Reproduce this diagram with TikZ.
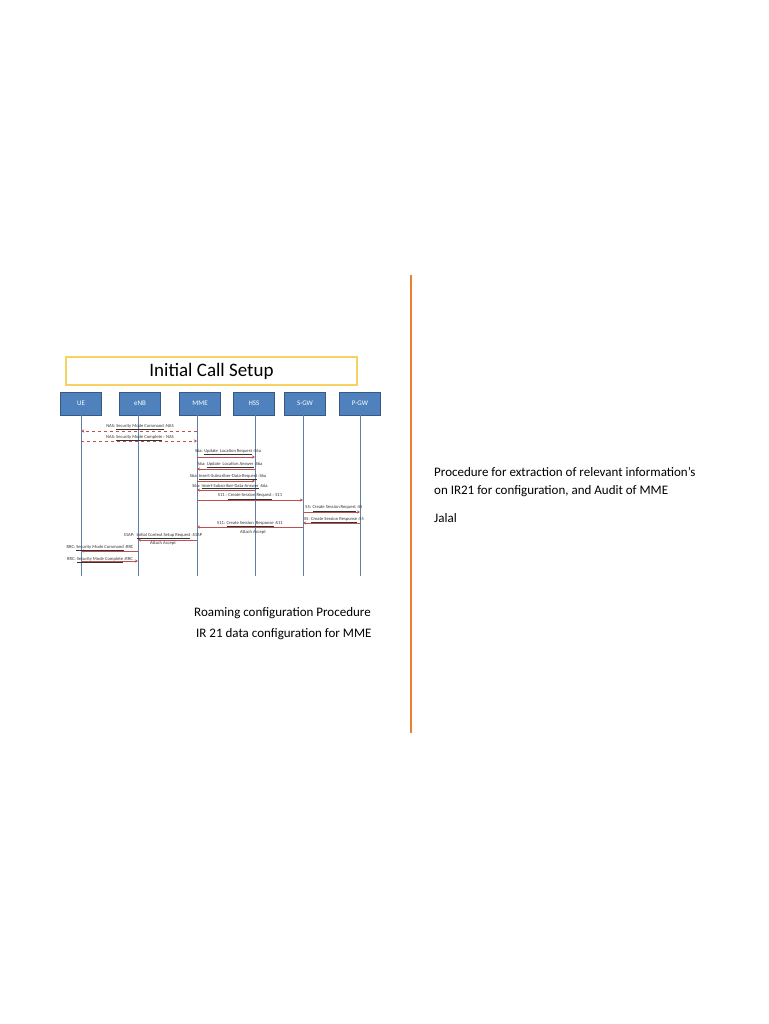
\documentclass[tikz,border=0pt]{standalone}
\usepackage{fontspec}
\setmainfont{Carlito}
\usetikzlibrary{arrows.meta}
\definecolor{ent}{HTML}{4F81BD}
\definecolor{msg}{HTML}{C0504D}
\definecolor{ttl}{HTML}{F5D35E}
\definecolor{org}{HTML}{ED7D31}
\begin{document}
\begin{tikzpicture}[x=1pt,y=-1pt,
  entbox/.style={draw=ent!70!black,fill=ent,text=white,minimum width=41pt,minimum height=23pt,inner sep=0pt,font=\fontsize{7}{8}\selectfont},
  life/.style={draw=ent!60!gray,line width=0.6pt},
  m/.style={draw=msg,line width=0.6pt,-{Stealth[length=3pt,width=3pt]}},
  md/.style={m,dashed},
  lab/.style={font=\fontsize{4.6}{5}\selectfont,inner sep=0pt,text=black!80},
  captext/.style={font=\fontsize{13}{15}\selectfont,anchor=west,inner sep=0pt}]
\useasboundingbox (0,0) rectangle (768,1024);
\node[draw=ttl,line width=1.2pt,minimum width=291pt,minimum height=28pt,inner sep=0pt,font=\fontsize{19}{22}\selectfont] (title) at (211.5,371) {Initial Call Setup};
\foreach \n/\t/\x in {ue/UE/81,enb/eNB/140,mme/MME/200,hss/HSS/254,sgw/S-GW/305,pgw/P-GW/360}{
  \node[entbox] (\n) at (\x,403.5) {\t};
}
\foreach \n/\x in {ue/81,enb/138,mme/197,hss/255,sgw/303,pgw/360}{
  \coordinate (\n t) at (\x,415); \coordinate (\n b) at (\x,576);
  \draw[life] (\n t) -- (\n b);
}
\foreach \n/\x in {ue/81,enb/138,mme/197,hss/255,sgw/303,pgw/360}{
  \foreach \k/\y in {1/431,2/441,3/457,4/469,5/481,6/490,7/500,8/512,9/523,10/527,11/540,12/551,13/561}{
    \coordinate (\n\k) at (\x,\y);
  }
}
\draw[md] (mme1) -- (ue1);
\node[lab] (l1) at (140,427) {NAS: \underline{Security Mode Command} :NAS};
\draw[md] (ue2) -- (mme2);
\node[lab] (l2) at (140,438) {NAS: \underline{Security Mode Complete} : NAS};
\draw[m] (mme3) -- (hss3);
\node[lab] (l3) at (228,452) {S6a: \underline{Update\ \ Location Request} :S6a};
\draw[m] (hss4) -- (mme4);
\node[lab] (l4) at (230,465) {S6a: \underline{Update\ \ Location Answer} :S6a};
\draw[m] (mme5) -- (hss5);
\node[lab] (l5) at (228,477) {S6a: \underline{Insert-Subscriber-Data-Request} :S6a};
\draw[m] (hss6) -- (mme6);
\node[lab] (l6) at (230,486.5) {S6a: \underline{Insert-Subscriber-Data-Answer} :S6a};
\draw[m] (mme7) -- (sgw7);
\node[lab] (l7) at (250,496.5) {S11 : \underline{Create Session Request} : S11};
\draw[m] (sgw8) -- (pgw8);
\node[lab] (l8) at (334,508.5) {S5: \underline{Create Session Request} :S5};
\draw[m] (pgw9) -- (sgw9);
\node[lab] (l9) at (334,520) {S5: \underline{Create Session Response} :S5};
\draw[m] (sgw10) -- (mme10);
\node[lab] (l10) at (250,524) {S11: \underline{Create Session\ \ Response} :S11};
\node[lab] (l10b) at (253,532) {Attach Accept};
\draw[m] (mme11) -- (enb11);
\node[lab] (l11) at (163,536) {S1AP:\ \ \underline{Initial Context Setup Request} :S1AP};
\node[lab] (l11b) at (163,543.5) {Attach Accept};
\draw[m] (enb12) -- (ue12);
\node[lab] (l12) at (100,548) {RRC: \underline{Security Mode Command} :RRC};
\draw[m] (ue13) -- (enb13);
\node[lab] (l13) at (100,560) {RRC: \underline{Security Mode Complete} :RRC};
\node[captext] (c1) at (194,613) {Roaming configuration Procedure};
\node[captext] (c2) at (196,634) {IR 21 data configuration for MME};
\coordinate (ot) at (411,275); \coordinate (ob) at (411,733);
\draw[org,line width=1.5pt] (ot) -- (ob);
\node[captext] (r1) at (434,472) {Procedure for extraction of relevant information’s};
\node[captext] (r2) at (434,491) {on IR21 for configuration, and Audit of MME};
\node[captext] (r3) at (434,518) {Jalal};
\end{tikzpicture}
\end{document}
